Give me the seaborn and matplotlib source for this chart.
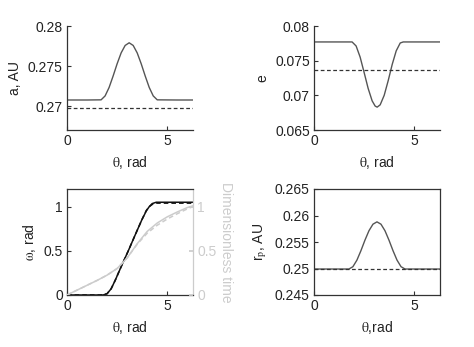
import numpy as np
import pandas as pd
import matplotlib
matplotlib.use("Agg")
import matplotlib.pyplot as plt
import seaborn as sns

# ---- data ----
theta_a = [0, 1.0, 1.7, 1.9, 2.1, 2.3, 2.5, 2.7, 2.9, 3.1, 3.3, 3.5, 3.7, 3.9, 4.1, 4.3, 4.5, 5.5, 6.28]
a_sol = [0.27075, 0.27075, 0.27077, 0.27126, 0.27232, 0.27375, 0.27528, 0.27664, 0.27757, 0.2779,
         0.27757, 0.27664, 0.27528, 0.27375, 0.27232, 0.27126, 0.27077, 0.27075, 0.27075]
a_ref = 0.2697

theta_e = [0, 1.0, 1.9, 2.1, 2.3, 2.5, 2.7, 2.9, 3.05, 3.15, 3.3, 3.5, 3.7, 3.9, 4.1, 4.3, 4.45, 5.5, 6.28]
e_sol = [0.0777, 0.0777, 0.0777, 0.07712, 0.07552, 0.07329, 0.0710, 0.0692, 0.06845, 0.0683,
         0.06863, 0.0700, 0.07212, 0.07446, 0.07642, 0.07755, 0.0777, 0.0777, 0.0777]
e_ref = 0.0736

theta_w = [0, 1.8, 2.0, 2.2, 2.4, 2.73, 3.07, 3.4, 3.73, 3.95, 4.1, 4.25, 4.45, 6.28]
w_sol = [0, 0, 0.015, 0.07, 0.164, 0.336, 0.507, 0.68, 0.85, 0.95, 1.0, 1.035, 1.05, 1.05]
w_dash = [0, 0, 0.015, 0.07, 0.164, 0.336, 0.507, 0.68, 0.85, 0.955, 1.0, 1.025, 1.04, 1.04]

theta_t = [0, 0.5, 1.0, 1.5, 2.0, 2.5, 3.0, 3.5, 4.0, 4.5, 5.0, 5.5, 6.0, 6.28]
t_sol = [0, 0.055, 0.11, 0.165, 0.225, 0.3, 0.42, 0.58, 0.72, 0.815, 0.885, 0.94, 0.99, 1.01]
t_dash = [0, 0.055, 0.11, 0.165, 0.225, 0.3, 0.42, 0.575, 0.70, 0.79, 0.86, 0.92, 0.975, 1.0]

theta_r = [0, 1.0, 1.74, 1.94, 2.14, 2.34, 2.54, 2.74, 2.94, 3.14, 3.34, 3.54, 3.74, 3.94, 4.14, 4.34, 4.54, 5.5, 6.28]
r_sol = [0.2499, 0.2499, 0.2499, 0.25034, 0.25158, 0.25336, 0.25534, 0.25712, 0.25836, 0.2588,
         0.25836, 0.25712, 0.25534, 0.25336, 0.25158, 0.25034, 0.2499, 0.2499, 0.2499]
r_ref = 0.2500

sns.set_theme(style="white")
plt.rcParams["font.family"] = ["Liberation Sans", "DejaVu Sans"]
plt.rcParams["mathtext.fontset"] = "stix"
plt.rcParams["font.size"] = 10

FS = 10
LINE = "#555555"
SPINE = "#333333"
LIGHT = "#cccccc"
XMAX = 2 * np.pi
TH = r"$\mathrm{\theta}$, rad"

fig = plt.figure(figsize=(4.74, 3.47), dpi=100)
fig.patch.set_facecolor("white")

W = 126 / 474
ax1 = fig.add_axes([67 / 474, 1 - 130 / 347, W, 104 / 347])
ax2 = fig.add_axes([314 / 474, 1 - 130 / 347, W, 104 / 347])
ax3 = fig.add_axes([67 / 474, 1 - 295 / 347, W, 106 / 347])
ax4 = fig.add_axes([314 / 474, 1 - 295 / 347, W, 106 / 347])


def style(ax, box):
    for s in ["top", "right"]:
        ax.spines[s].set_visible(box)
    for s in ax.spines.values():
        s.set_color(SPINE)
        s.set_linewidth(0.9)
    ax.tick_params(direction="in", length=3, width=0.8, colors=SPINE,
                   labelsize=FS, labelcolor="#222222", top=False, right=False,
                   bottom=True, left=True, pad=3)
    ax.set_xlim(0, XMAX)
    ax.set_xticks([0, 5])
    ax.set_xticklabels(["0", "5"])
    ax.set_facecolor("white")
    ax.grid(False)


# panel a
sns.lineplot(x=theta_a, y=a_sol, ax=ax1, color=LINE, lw=1.0)
ax1.axhline(a_ref, color=SPINE, lw=0.9, ls=(0, (3, 2)))
ax1.set_ylim(0.267, 0.28)
ax1.set_yticks([0.27, 0.275, 0.28])
ax1.set_yticklabels(["0.27", "0.275", "0.28"])
style(ax1, False)
ax1.set_xlabel(TH, fontsize=FS, color="#222222")
ax1.set_ylabel("a, AU", fontsize=FS, color="#222222")

# panel e
sns.lineplot(x=theta_e, y=e_sol, ax=ax2, color=LINE, lw=1.0)
ax2.axhline(e_ref, color=SPINE, lw=0.9, ls=(0, (3, 2)))
ax2.set_ylim(0.065, 0.08)
ax2.set_yticks([0.065, 0.07, 0.075, 0.08])
ax2.set_yticklabels(["0.065", "0.07", "0.075", "0.08"])
style(ax2, False)
ax2.set_xlabel(TH, fontsize=FS, color="#222222")
ax2.set_ylabel("e", fontsize=FS, color="#222222")

# panel omega with dimensionless time
sns.lineplot(x=theta_w, y=w_sol, ax=ax3, color="#111111", lw=1.1)
sns.lineplot(x=theta_w, y=w_dash, ax=ax3, color="#111111", lw=1.1, ls=(0, (3, 2)))
ax3.set_ylim(0, 1.2)
ax3.set_yticks([0, 0.5, 1])
ax3.set_yticklabels(["0", "0.5", "1"])
style(ax3, True)
ax3.set_xlabel(TH, fontsize=FS, color="#222222")
ax3.set_ylabel(r"$\mathrm{\omega}$, rad", fontsize=FS, color="#222222")
ax3.spines["right"].set_color(LIGHT)

axt = ax3.twinx()
sns.lineplot(x=theta_t, y=t_sol, ax=axt, color=LIGHT, lw=1.1)
sns.lineplot(x=theta_t, y=t_dash, ax=axt, color=LIGHT, lw=1.1, ls=(0, (3, 2)))
axt.set_ylim(0, 1.2)
axt.set_yticks([0, 0.5, 1])
axt.set_yticklabels(["0", "0.5", "1"])
axt.set_xlim(0, XMAX)
for s in axt.spines.values():
    s.set_visible(False)
axt.tick_params(axis="y", direction="in", length=3, colors=LIGHT, labelcolor=LIGHT,
                labelsize=FS, right=True, left=False, pad=3)
axt.set_ylabel("Dimensionless time", fontsize=FS, color=LIGHT, rotation=270, labelpad=12)
axt.grid(False)

# panel rp
sns.lineplot(x=theta_r, y=r_sol, ax=ax4, color=LINE, lw=1.0)
ax4.axhline(r_ref, color=SPINE, lw=0.9, ls=(0, (3, 2)))
ax4.set_ylim(0.245, 0.265)
ax4.set_yticks([0.245, 0.25, 0.255, 0.26, 0.265])
ax4.set_yticklabels(["0.245", "0.25", "0.255", "0.26", "0.265"])
style(ax4, True)
ax4.set_xlabel(r"$\mathrm{\theta}$,rad", fontsize=FS, color="#222222")
ax4.set_ylabel(r"r$_{\mathrm{p}}$, AU", fontsize=FS, color="#222222")

fig.savefig("out.png", dpi=100, facecolor="white")
